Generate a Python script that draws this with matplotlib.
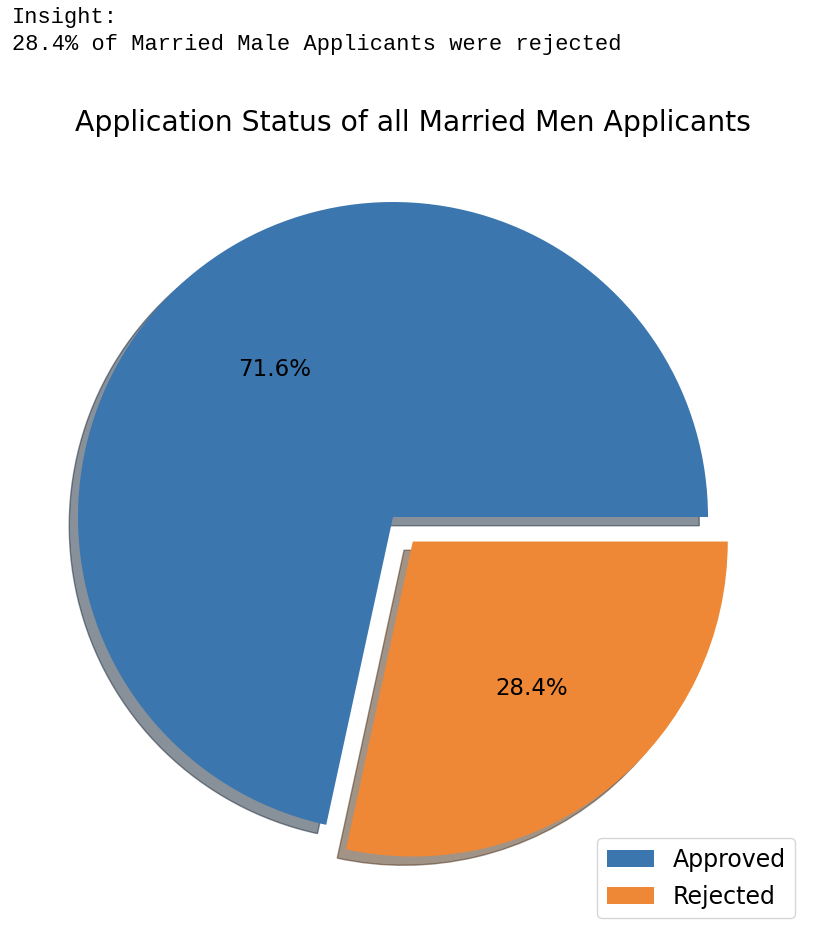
import matplotlib.pyplot as plt

# donnees du graphique
labels = ["Approved", "Rejected"]
shares = [71.6, 28.4]
explode = [0, 0.1]
colors = ["#3b76af", "#ee8837"]

insight_lines = ["Insight:", "28.4% of Married Male Applicants were rejected"]
title = "Application Status of all Married Men Applicants"

W, H = 832, 946
fig = plt.figure(figsize=(W / 100, H / 100), dpi=100)

# texte imprime au-dessus du graphique (sortie du notebook)
for line, y in zip(insight_lines, [23, 50]):
    fig.text(12 / W, 1 - y / H, line, family="Liberation Mono", fontsize=15.8, va="baseline")

# axes : centre du camembert a (393, 517) px, rayon 315 px
cx, cy, r = 393, 517, 315
top, bottom = 170, H
ax = fig.add_axes([0, 1 - bottom / H, 1, (bottom - top) / H])
ax.pie(shares, labels=None, explode=explode, colors=colors, autopct="%1.1f%%",
       shadow=True, textprops={"fontsize": 16.5})
ax.set_xlim((0 - cx) / r, (W - cx) / r)
ax.set_ylim((cy - bottom) / r, (cy - top) / r)
ax.set_aspect("auto")
ax.axis("off")

fig.text(413 / W, 1 - 131 / H, title, ha="center", va="baseline", fontsize=20.3)

fig.legend(labels, loc="lower right", bbox_to_anchor=(807 / W, 16 / H), fontsize=17,
           labelspacing=0.55)

fig.savefig("out.png", dpi=100)
